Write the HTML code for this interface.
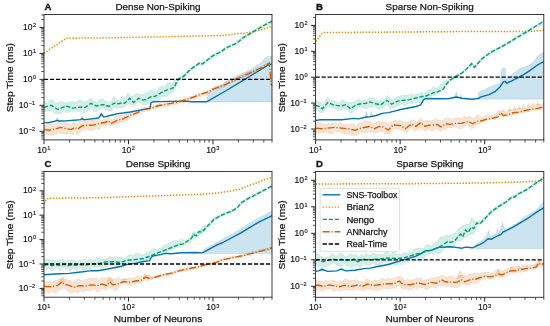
<!DOCTYPE html>
<html><head><meta charset="utf-8"><style>html,body{margin:0;padding:0;background:#fff;}svg{display:block;}</style></head>
<body><svg width="550" height="326" viewBox="0 0 550 326" font-family='"Liberation Sans", sans-serif' fill="#161616" style="will-change:transform"><defs><clipPath id="clipA"><rect x="44.0" y="14.5" width="228.00" height="125.40"/></clipPath><clipPath id="clipB"><rect x="315.6" y="14.5" width="228.20" height="125.40"/></clipPath><clipPath id="clipC"><rect x="44.0" y="171.5" width="228.00" height="125.70"/></clipPath><clipPath id="clipD"><rect x="315.6" y="171.5" width="228.20" height="125.80"/></clipPath></defs><g clip-path="url(#clipA)"><polygon points="44.0,102.0 46.8,103.0 49.6,100.5 52.4,99.8 55.2,103.2 58.0,102.7 60.8,101.5 63.6,102.6 66.4,102.8 69.2,102.3 72.0,101.3 74.8,102.7 77.6,101.1 80.4,100.1 83.2,101.9 86.0,101.8 88.8,99.7 91.6,98.3 94.4,101.7 97.2,101.9 100.0,99.3 102.8,98.7 105.6,101.1 108.4,102.5 111.2,101.5 114.0,96.2 116.8,99.9 119.6,100.1 122.4,96.1 125.2,98.6 128.0,93.1 130.8,96.1 133.6,95.7 136.4,93.5 139.2,94.4 142.0,94.7 144.8,93.4 147.6,92.2 150.4,90.5 153.2,90.2 156.0,92.4 158.8,88.1 161.6,86.2 164.4,87.2 167.2,83.2 170.0,82.7 172.8,83.7 175.6,78.5 178.4,77.7 181.2,76.1 184.0,74.6 186.8,72.6 189.6,69.0 192.4,66.3 195.2,65.5 198.0,62.6 200.8,62.2 203.6,61.4 206.4,60.2 209.2,57.2 212.0,54.4 214.8,53.2 217.6,51.8 220.4,50.9 223.2,48.4 226.0,46.2 228.8,45.6 231.6,44.5 234.4,43.7 237.2,40.9 240.0,39.1 242.8,36.3 245.6,35.2 248.4,33.2 251.2,32.5 254.0,30.4 256.8,27.9 259.6,26.0 262.4,25.4 265.2,22.8 268.0,22.0 270.8,20.3 272.3,19.2 272.3,22.3 270.8,23.7 268.0,24.8 265.2,26.1 262.4,28.2 259.6,29.8 256.8,30.1 254.0,32.6 251.2,34.4 248.4,36.4 245.6,37.0 242.8,39.0 240.0,41.0 237.2,43.7 234.4,45.0 231.6,46.3 228.8,48.5 226.0,48.8 223.2,51.6 220.4,52.9 217.6,55.1 214.8,56.3 212.0,58.2 209.2,59.2 206.4,62.1 203.6,64.9 200.8,64.9 198.0,64.9 195.2,67.7 192.4,68.6 189.6,71.9 186.8,74.2 184.0,77.1 181.2,79.1 178.4,80.9 175.6,87.5 172.8,91.9 170.0,92.7 167.2,96.4 164.4,96.2 161.6,96.6 158.8,100.1 156.0,101.5 153.2,100.2 150.4,101.4 147.6,103.9 144.8,105.3 142.0,104.0 139.2,101.9 136.4,103.2 133.6,106.0 130.8,105.1 128.0,103.9 125.2,106.4 122.4,108.0 119.6,107.7 116.8,108.0 114.0,106.8 111.2,110.9 108.4,110.6 105.6,109.5 102.8,107.7 100.0,108.7 97.2,111.2 94.4,111.5 91.6,107.4 88.8,110.1 86.0,112.1 83.2,113.2 80.4,111.6 77.6,111.1 74.8,110.8 72.0,110.6 69.2,112.0 66.4,112.5 63.6,109.9 60.8,114.0 58.0,113.3 55.2,113.6 52.4,110.8 49.6,110.7 46.8,111.0 44.0,112.2" fill="#029e73" fill-opacity="0.17" stroke="#029e73" stroke-opacity="0.22" stroke-width="0.6"/><polygon points="44.0,124.5 46.4,125.3 48.8,123.9 51.2,124.3 53.6,124.9 56.0,123.9 58.4,122.1 60.8,121.6 63.2,121.8 65.6,122.4 68.0,123.5 70.4,125.3 72.8,122.4 75.2,122.8 77.6,125.3 80.0,121.3 82.4,120.1 84.8,120.7 87.2,120.8 89.6,119.4 92.0,120.0 94.4,120.1 96.8,118.8 99.2,119.1 101.6,120.7 104.0,118.7 106.4,118.8 108.8,116.9 111.2,119.4 113.6,119.4 116.0,116.2 118.4,116.2 120.8,115.3 123.2,115.1 125.6,113.2 128.0,112.2 130.4,113.2 132.8,112.7 135.2,111.4 137.6,110.6 140.0,109.6 142.4,108.3 144.8,107.5 147.2,107.4 149.6,107.4 152.0,105.8 154.4,106.0 156.8,104.4 159.2,103.5 161.6,104.3 164.0,103.2 166.4,102.6 168.8,102.8 171.2,101.5 173.6,101.4 176.0,100.6 178.4,100.9 180.8,99.4 183.2,98.7 185.6,98.3 188.0,97.8 190.4,96.4 192.8,96.0 195.2,94.4 197.6,94.0 200.0,93.1 202.4,92.5 204.8,92.1 207.2,91.0 209.6,89.9 212.0,88.3 214.4,86.9 216.8,86.5 219.2,84.8 221.6,85.1 224.0,84.2 226.4,82.6 228.8,81.2 231.2,80.0 233.6,79.5 236.0,77.8 238.4,76.2 240.8,75.8 243.2,74.2 245.6,73.2 248.0,71.9 250.4,71.0 252.8,70.5 255.2,69.7 257.6,67.5 260.0,66.9 262.4,66.0 264.8,64.0 267.2,63.5 269.3,61.3 269.3,64.2 267.2,65.3 264.8,67.1 262.4,68.5 260.0,69.6 257.6,71.0 255.2,72.0 252.8,73.4 250.4,74.5 248.0,74.8 245.6,76.7 243.2,77.4 240.8,78.4 238.4,79.7 236.0,80.9 233.6,82.2 231.2,82.9 228.8,83.8 226.4,85.9 224.0,87.2 221.6,87.9 219.2,88.7 216.8,89.3 214.4,89.9 212.0,91.0 209.6,93.3 207.2,93.6 204.8,95.1 202.4,95.5 200.0,96.8 197.6,96.7 195.2,98.4 192.8,99.0 190.4,99.3 188.0,100.1 185.6,101.5 183.2,102.5 180.8,103.1 178.4,102.9 176.0,104.5 173.6,104.6 171.2,104.9 168.8,105.5 166.4,106.2 164.0,105.6 161.6,107.3 159.2,107.2 156.8,107.1 154.4,108.4 152.0,109.2 149.6,110.6 147.2,110.2 144.8,111.5 142.4,111.9 140.0,113.2 137.6,113.7 135.2,115.0 132.8,116.1 130.4,116.5 128.0,120.0 125.6,120.9 123.2,122.6 120.8,122.4 118.4,122.9 116.0,124.8 113.6,125.1 111.2,126.3 108.8,123.7 106.4,125.3 104.0,125.2 101.6,126.4 99.2,129.8 96.8,127.9 94.4,129.8 92.0,130.1 89.6,131.1 87.2,129.1 84.8,129.5 82.4,130.5 80.0,132.1 77.6,135.2 75.2,131.7 72.8,134.6 70.4,133.2 68.0,133.7 65.6,133.9 63.2,133.8 60.8,133.5 58.4,132.9 56.0,134.2 53.6,134.6 51.2,135.7 48.8,134.8 46.4,133.9 44.0,135.0" fill="#d55e00" fill-opacity="0.17" stroke="#d55e00" stroke-opacity="0.22" stroke-width="0.6"/><polygon points="207.5,101.9 207.5,94.0 230.0,79.0 250.0,70.0 262.0,62.0 265.0,58.0 268.0,56.3 272.0,56.5 272.0,101.9" fill="#0173b2" fill-opacity="0.2" stroke="#0173b2" stroke-opacity="0.22" stroke-width="0.6"/><polygon points="55.0,121.5 57.1,116.8 59.5,121.3" fill="#0173b2" fill-opacity="0.28"/><polygon points="80.0,120.0 82.2,115.6 84.5,119.8" fill="#0173b2" fill-opacity="0.28"/><polygon points="99.5,117.5 101.3,111.8 103.3,116.8" fill="#0173b2" fill-opacity="0.28"/><polyline points="44.0,122.4 47.3,122.9 55.0,121.2 57.1,120.3 59.0,121.0 65.8,120.9 76.7,120.0 80.5,119.6 82.2,118.6 84.0,119.6 85.0,119.6 98.8,118.0 101.3,113.8 103.8,117.1 111.9,115.0 118.0,113.6 130.4,112.0 141.2,109.9 149.9,108.3 151.1,102.6 152.8,101.8 160.0,101.6 169.0,101.4 186.6,101.3 192.0,101.7 206.5,101.8 225.5,91.0 245.1,79.2 268.4,64.9 272.3,63.8" fill="none" stroke="#0173b2" stroke-width="1.4" stroke-linejoin="round"/><polyline points="44.0,53.2 66.4,38.2 100.0,37.9 160.0,36.9 222.0,35.4 237.6,33.8 249.1,32.5 258.5,30.1 272.3,26.7" fill="none" stroke="#de8f05" stroke-width="1.55" stroke-dasharray="1.35,1.65"/><polyline points="44.0,107.4 51.0,105.3 57.8,109.5 66.0,106.0 73.0,108.1 79.9,107.1 85.4,107.4 90.9,103.3 96.4,106.0 102.0,104.7 104.4,104.8 108.7,106.5 114.2,103.2 118.5,103.7 122.1,102.9 124.6,103.3 129.6,98.3 133.7,102.5 138.7,98.3 142.9,100.0 146.2,99.6 151.1,96.7 155.3,96.2 160.5,93.0 165.9,90.3 171.4,88.6 174.6,87.0 176.8,81.5 179.0,78.8 183.4,76.6 190.3,69.4 200.1,62.7 202.5,63.9 212.4,56.0 221.0,51.7 226.2,47.9 236.9,43.1 242.8,38.0 253.3,31.7 263.7,25.5 272.3,21.0" fill="none" stroke="#029e73" stroke-width="1.4" stroke-dasharray="4.3,1.8"/><polyline points="44.0,129.6 49.5,130.2 54.9,129.1 60.4,127.4 65.8,128.5 71.3,129.6 74.5,127.4 77.8,129.1 81.1,126.4 85.0,125.3 92.7,125.3 97.3,124.0 101.5,123.0 105.7,122.3 108.0,120.7 111.1,123.3 115.7,121.1 118.0,119.9 122.1,119.4 126.3,117.4 130.4,115.3 137.1,112.8 142.0,109.9 147.0,109.1 151.1,108.3 158.0,105.8 165.9,104.4 176.8,102.3 186.6,99.5 198.6,95.2 209.5,91.4 212.0,89.4 224.3,85.1 236.5,79.0 248.8,73.5 261.1,68.0 268.4,63.7 269.3,63.0 271.3,85.5" fill="none" stroke="#d55e00" stroke-width="1.4" stroke-dasharray="7.2,1.8,1.15,1.8"/><line x1="44.0" y1="79.34" x2="272.0" y2="79.34" stroke="#000" stroke-width="1.3" stroke-dasharray="4.2,1.8"/></g><line x1="44.00" y1="139.9" x2="44.00" y2="144.20000000000002" stroke="#262626" stroke-width="1.0"/><line x1="69.43" y1="139.9" x2="69.43" y2="142.5" stroke="#262626" stroke-width="0.8"/><line x1="84.31" y1="139.9" x2="84.31" y2="142.5" stroke="#262626" stroke-width="0.8"/><line x1="94.86" y1="139.9" x2="94.86" y2="142.5" stroke="#262626" stroke-width="0.8"/><line x1="103.05" y1="139.9" x2="103.05" y2="142.5" stroke="#262626" stroke-width="0.8"/><line x1="109.74" y1="139.9" x2="109.74" y2="142.5" stroke="#262626" stroke-width="0.8"/><line x1="115.39" y1="139.9" x2="115.39" y2="142.5" stroke="#262626" stroke-width="0.8"/><line x1="120.29" y1="139.9" x2="120.29" y2="142.5" stroke="#262626" stroke-width="0.8"/><line x1="124.61" y1="139.9" x2="124.61" y2="142.5" stroke="#262626" stroke-width="0.8"/><line x1="128.48" y1="139.9" x2="128.48" y2="144.20000000000002" stroke="#262626" stroke-width="1.0"/><line x1="153.91" y1="139.9" x2="153.91" y2="142.5" stroke="#262626" stroke-width="0.8"/><line x1="168.79" y1="139.9" x2="168.79" y2="142.5" stroke="#262626" stroke-width="0.8"/><line x1="179.34" y1="139.9" x2="179.34" y2="142.5" stroke="#262626" stroke-width="0.8"/><line x1="187.53" y1="139.9" x2="187.53" y2="142.5" stroke="#262626" stroke-width="0.8"/><line x1="194.22" y1="139.9" x2="194.22" y2="142.5" stroke="#262626" stroke-width="0.8"/><line x1="199.87" y1="139.9" x2="199.87" y2="142.5" stroke="#262626" stroke-width="0.8"/><line x1="204.77" y1="139.9" x2="204.77" y2="142.5" stroke="#262626" stroke-width="0.8"/><line x1="209.09" y1="139.9" x2="209.09" y2="142.5" stroke="#262626" stroke-width="0.8"/><line x1="212.96" y1="139.9" x2="212.96" y2="144.20000000000002" stroke="#262626" stroke-width="1.0"/><line x1="238.39" y1="139.9" x2="238.39" y2="142.5" stroke="#262626" stroke-width="0.8"/><line x1="253.27" y1="139.9" x2="253.27" y2="142.5" stroke="#262626" stroke-width="0.8"/><line x1="263.82" y1="139.9" x2="263.82" y2="142.5" stroke="#262626" stroke-width="0.8"/><line x1="272.01" y1="139.9" x2="272.01" y2="142.5" stroke="#262626" stroke-width="0.8"/><text x="37.30" y="152.60" font-size="9.6" stroke="#161616" stroke-width="0.2" textLength="9.5" lengthAdjust="spacingAndGlyphs">10</text><text x="47.30" y="150.40" font-size="5.6" stroke="#161616" stroke-width="0.15">1</text><text x="121.78" y="152.60" font-size="9.6" stroke="#161616" stroke-width="0.2" textLength="9.5" lengthAdjust="spacingAndGlyphs">10</text><text x="131.78" y="150.40" font-size="5.6" stroke="#161616" stroke-width="0.15">2</text><text x="206.26" y="152.60" font-size="9.6" stroke="#161616" stroke-width="0.2" textLength="9.5" lengthAdjust="spacingAndGlyphs">10</text><text x="216.26" y="150.40" font-size="5.6" stroke="#161616" stroke-width="0.15">3</text><line x1="41.3" y1="139.10" x2="44.0" y2="139.10" stroke="#262626" stroke-width="0.8"/><line x1="41.3" y1="137.04" x2="44.0" y2="137.04" stroke="#262626" stroke-width="0.8"/><line x1="41.3" y1="135.30" x2="44.0" y2="135.30" stroke="#262626" stroke-width="0.8"/><line x1="41.3" y1="133.80" x2="44.0" y2="133.80" stroke="#262626" stroke-width="0.8"/><line x1="41.3" y1="132.47" x2="44.0" y2="132.47" stroke="#262626" stroke-width="0.8"/><line x1="39.5" y1="131.28" x2="44.0" y2="131.28" stroke="#262626" stroke-width="1.0"/><line x1="41.3" y1="123.46" x2="44.0" y2="123.46" stroke="#262626" stroke-width="0.8"/><line x1="41.3" y1="118.89" x2="44.0" y2="118.89" stroke="#262626" stroke-width="0.8"/><line x1="41.3" y1="115.64" x2="44.0" y2="115.64" stroke="#262626" stroke-width="0.8"/><line x1="41.3" y1="113.13" x2="44.0" y2="113.13" stroke="#262626" stroke-width="0.8"/><line x1="41.3" y1="111.07" x2="44.0" y2="111.07" stroke="#262626" stroke-width="0.8"/><line x1="41.3" y1="109.33" x2="44.0" y2="109.33" stroke="#262626" stroke-width="0.8"/><line x1="41.3" y1="107.83" x2="44.0" y2="107.83" stroke="#262626" stroke-width="0.8"/><line x1="41.3" y1="106.50" x2="44.0" y2="106.50" stroke="#262626" stroke-width="0.8"/><line x1="39.5" y1="105.31" x2="44.0" y2="105.31" stroke="#262626" stroke-width="1.0"/><line x1="41.3" y1="97.49" x2="44.0" y2="97.49" stroke="#262626" stroke-width="0.8"/><line x1="41.3" y1="92.92" x2="44.0" y2="92.92" stroke="#262626" stroke-width="0.8"/><line x1="41.3" y1="89.67" x2="44.0" y2="89.67" stroke="#262626" stroke-width="0.8"/><line x1="41.3" y1="87.16" x2="44.0" y2="87.16" stroke="#262626" stroke-width="0.8"/><line x1="41.3" y1="85.10" x2="44.0" y2="85.10" stroke="#262626" stroke-width="0.8"/><line x1="41.3" y1="83.36" x2="44.0" y2="83.36" stroke="#262626" stroke-width="0.8"/><line x1="41.3" y1="81.86" x2="44.0" y2="81.86" stroke="#262626" stroke-width="0.8"/><line x1="41.3" y1="80.53" x2="44.0" y2="80.53" stroke="#262626" stroke-width="0.8"/><line x1="39.5" y1="79.34" x2="44.0" y2="79.34" stroke="#262626" stroke-width="1.0"/><line x1="41.3" y1="71.52" x2="44.0" y2="71.52" stroke="#262626" stroke-width="0.8"/><line x1="41.3" y1="66.95" x2="44.0" y2="66.95" stroke="#262626" stroke-width="0.8"/><line x1="41.3" y1="63.70" x2="44.0" y2="63.70" stroke="#262626" stroke-width="0.8"/><line x1="41.3" y1="61.19" x2="44.0" y2="61.19" stroke="#262626" stroke-width="0.8"/><line x1="41.3" y1="59.13" x2="44.0" y2="59.13" stroke="#262626" stroke-width="0.8"/><line x1="41.3" y1="57.39" x2="44.0" y2="57.39" stroke="#262626" stroke-width="0.8"/><line x1="41.3" y1="55.89" x2="44.0" y2="55.89" stroke="#262626" stroke-width="0.8"/><line x1="41.3" y1="54.56" x2="44.0" y2="54.56" stroke="#262626" stroke-width="0.8"/><line x1="39.5" y1="53.37" x2="44.0" y2="53.37" stroke="#262626" stroke-width="1.0"/><line x1="41.3" y1="45.55" x2="44.0" y2="45.55" stroke="#262626" stroke-width="0.8"/><line x1="41.3" y1="40.98" x2="44.0" y2="40.98" stroke="#262626" stroke-width="0.8"/><line x1="41.3" y1="37.73" x2="44.0" y2="37.73" stroke="#262626" stroke-width="0.8"/><line x1="41.3" y1="35.22" x2="44.0" y2="35.22" stroke="#262626" stroke-width="0.8"/><line x1="41.3" y1="33.16" x2="44.0" y2="33.16" stroke="#262626" stroke-width="0.8"/><line x1="41.3" y1="31.42" x2="44.0" y2="31.42" stroke="#262626" stroke-width="0.8"/><line x1="41.3" y1="29.92" x2="44.0" y2="29.92" stroke="#262626" stroke-width="0.8"/><line x1="41.3" y1="28.59" x2="44.0" y2="28.59" stroke="#262626" stroke-width="0.8"/><line x1="39.5" y1="27.40" x2="44.0" y2="27.40" stroke="#262626" stroke-width="1.0"/><line x1="41.3" y1="19.58" x2="44.0" y2="19.58" stroke="#262626" stroke-width="0.8"/><line x1="41.3" y1="15.01" x2="44.0" y2="15.01" stroke="#262626" stroke-width="0.8"/><text x="18.70" y="133.78" font-size="9.6" stroke="#161616" stroke-width="0.2" textLength="9.5" lengthAdjust="spacingAndGlyphs">10</text><text x="28.70" y="130.98" font-size="5.6" stroke="#161616" stroke-width="0.15">−2</text><text x="18.70" y="107.81" font-size="9.6" stroke="#161616" stroke-width="0.2" textLength="9.5" lengthAdjust="spacingAndGlyphs">10</text><text x="28.70" y="105.01" font-size="5.6" stroke="#161616" stroke-width="0.15">−1</text><text x="22.90" y="81.84" font-size="9.6" stroke="#161616" stroke-width="0.2" textLength="9.5" lengthAdjust="spacingAndGlyphs">10</text><text x="32.90" y="79.04" font-size="5.6" stroke="#161616" stroke-width="0.15">0</text><text x="22.90" y="55.87" font-size="9.6" stroke="#161616" stroke-width="0.2" textLength="9.5" lengthAdjust="spacingAndGlyphs">10</text><text x="32.90" y="53.07" font-size="5.6" stroke="#161616" stroke-width="0.15">1</text><text x="22.90" y="29.90" font-size="9.6" stroke="#161616" stroke-width="0.2" textLength="9.5" lengthAdjust="spacingAndGlyphs">10</text><text x="32.90" y="27.10" font-size="5.6" stroke="#161616" stroke-width="0.15">2</text><rect x="44.0" y="14.5" width="228.00" height="125.40" fill="none" stroke="#262626" stroke-width="0.9"/><text x="115.40" y="10.1" font-size="9.9" stroke="#161616" stroke-width="0.25" textLength="85.2" lengthAdjust="spacingAndGlyphs">Dense Non-Spiking</text><text transform="translate(44.40,10.00) scale(1.0,1.0)" font-size="9.6" font-weight="bold" stroke="#161616" stroke-width="0.35">A</text><text transform="translate(13.100000000000001,112.30) rotate(-90)" font-size="9.6" stroke="#161616" stroke-width="0.25" textLength="69.2" lengthAdjust="spacingAndGlyphs">Step Time (ms)</text><g clip-path="url(#clipB)"><polygon points="315.6,100.1 318.0,102.4 320.4,102.3 322.8,105.0 325.2,101.3 327.6,97.1 330.0,99.5 332.4,101.1 334.8,100.3 337.2,102.8 339.6,102.7 342.0,100.3 344.4,100.9 346.8,102.8 349.2,102.4 351.6,102.7 354.0,102.0 356.4,100.3 358.8,99.1 361.2,100.7 363.6,100.2 366.0,100.5 368.4,99.1 370.8,98.2 373.2,97.6 375.6,100.4 378.0,101.3 380.4,100.4 382.8,99.0 385.2,98.8 387.6,95.3 390.0,99.4 392.4,99.5 394.8,98.5 397.2,96.3 399.6,96.8 402.0,95.4 404.4,95.6 406.8,95.3 409.2,94.9 411.6,93.7 414.0,95.2 416.4,94.3 418.8,94.3 421.2,92.2 423.6,93.6 426.0,92.2 428.4,89.7 430.8,90.2 433.2,86.6 435.6,88.2 438.0,87.8 440.4,84.8 442.8,84.1 445.2,79.6 447.6,81.9 450.0,79.2 452.4,77.2 454.8,76.1 457.2,74.0 459.6,73.6 462.0,72.2 464.4,69.6 466.8,67.9 469.2,65.0 471.6,62.8 474.0,66.0 476.4,63.3 478.8,61.4 481.2,58.7 483.6,56.2 486.0,55.1 488.4,52.5 490.8,50.7 493.2,49.5 495.6,48.8 498.0,47.5 500.4,46.2 502.8,44.4 505.2,43.2 507.6,42.0 510.0,40.8 512.4,39.4 514.8,37.1 517.2,35.7 519.6,34.5 522.0,33.1 524.4,31.7 526.8,30.4 529.2,29.6 531.6,27.6 534.0,26.6 536.4,24.7 538.8,23.4 541.2,21.4 543.6,20.1 544.1,19.3 544.1,22.6 543.6,22.6 541.2,24.2 538.8,26.1 536.4,27.0 534.0,28.0 531.6,30.1 529.2,31.2 526.8,32.7 524.4,33.8 522.0,36.0 519.6,37.5 517.2,39.0 514.8,40.0 512.4,41.8 510.0,43.4 507.6,43.8 505.2,46.0 502.8,46.8 500.4,48.3 498.0,49.6 495.6,50.6 493.2,52.7 490.8,53.6 488.4,54.9 486.0,56.6 483.6,59.3 481.2,60.7 478.8,64.0 476.4,66.4 474.0,68.7 471.6,64.3 469.2,67.1 466.8,69.6 464.4,72.2 462.0,74.3 459.6,76.0 457.2,76.7 454.8,78.7 452.4,80.4 450.0,81.3 447.6,84.4 445.2,87.6 442.8,90.6 440.4,92.1 438.0,92.8 435.6,94.3 433.2,95.5 430.8,95.4 428.4,96.6 426.0,98.0 423.6,100.9 421.2,102.4 418.8,102.9 416.4,102.6 414.0,102.3 411.6,104.3 409.2,102.7 406.8,104.4 404.4,105.7 402.0,103.7 399.6,105.4 397.2,105.8 394.8,107.5 392.4,107.9 390.0,108.6 387.6,103.9 385.2,105.4 382.8,107.2 380.4,108.6 378.0,109.6 375.6,106.9 373.2,107.1 370.8,107.1 368.4,107.5 366.0,108.7 363.6,106.9 361.2,107.2 358.8,107.0 356.4,109.1 354.0,110.7 351.6,113.6 349.2,112.8 346.8,109.4 344.4,108.2 342.0,109.6 339.6,110.3 337.2,110.5 334.8,108.1 332.4,107.8 330.0,106.4 327.6,106.6 325.2,108.9 322.8,112.5 320.4,112.5 318.0,110.3 315.6,110.1" fill="#029e73" fill-opacity="0.17" stroke="#029e73" stroke-opacity="0.22" stroke-width="0.6"/><polygon points="315.6,124.5 318.0,121.9 320.4,122.7 322.8,124.2 325.2,124.6 327.6,124.5 330.0,123.2 332.4,123.2 334.8,123.0 337.2,123.8 339.6,122.3 342.0,124.2 344.4,124.7 346.8,125.0 349.2,124.5 351.6,123.7 354.0,124.4 356.4,126.2 358.8,122.8 361.2,123.5 363.6,121.2 366.0,120.7 368.4,121.7 370.8,121.5 373.2,124.2 375.6,122.8 378.0,121.4 380.4,121.7 382.8,122.5 385.2,121.9 387.6,124.2 390.0,123.1 392.4,121.9 394.8,119.8 397.2,121.5 399.6,120.6 402.0,121.0 404.4,122.2 406.8,122.7 409.2,121.2 411.6,119.8 414.0,120.1 416.4,122.3 418.8,120.1 421.2,118.2 423.6,121.6 426.0,121.0 428.4,120.6 430.8,121.0 433.2,120.3 435.6,118.2 438.0,120.3 440.4,120.5 442.8,120.6 445.2,117.9 447.6,118.6 450.0,118.5 452.4,120.1 454.8,118.0 457.2,118.3 459.6,117.8 462.0,119.4 464.4,116.0 466.8,117.8 469.2,116.1 471.6,117.8 474.0,118.7 476.4,115.7 478.8,115.4 481.2,118.1 483.6,118.0 486.0,114.8 488.4,115.9 490.8,115.3 493.2,115.7 495.6,114.7 498.0,114.6 500.4,110.1 502.8,111.2 505.2,113.0 507.6,111.2 510.0,109.8 512.4,111.0 514.8,109.0 517.2,109.1 519.6,108.0 522.0,109.1 524.4,108.0 526.8,108.4 529.2,106.2 531.6,106.8 534.0,106.2 536.4,104.4 538.8,104.5 541.2,104.3 543.6,102.7 544.1,104.7 544.1,108.6 543.6,108.6 541.2,109.8 538.8,109.2 536.4,109.5 534.0,110.0 531.6,110.6 529.2,111.9 526.8,111.3 524.4,112.7 522.0,112.9 519.6,112.9 517.2,113.4 514.8,114.7 512.4,114.7 510.0,116.0 507.6,116.6 505.2,116.0 502.8,117.1 500.4,114.3 498.0,117.9 495.6,119.9 493.2,118.9 490.8,119.4 488.4,119.7 486.0,120.9 483.6,121.9 481.2,121.9 478.8,124.3 476.4,125.2 474.0,127.5 471.6,128.4 469.2,126.5 466.8,124.8 464.4,126.6 462.0,128.6 459.6,128.5 457.2,127.0 454.8,126.9 452.4,127.5 450.0,128.1 447.6,127.4 445.2,130.1 442.8,129.6 440.4,131.6 438.0,128.9 435.6,129.1 433.2,130.8 430.8,130.6 428.4,129.3 426.0,131.3 423.6,130.3 421.2,127.8 418.8,128.6 416.4,130.5 414.0,130.9 411.6,127.4 409.2,129.4 406.8,133.0 404.4,131.2 402.0,130.5 399.6,129.5 397.2,128.8 394.8,128.4 392.4,130.1 390.0,134.1 387.6,134.0 385.2,134.1 382.8,131.6 380.4,130.9 378.0,131.8 375.6,132.9 373.2,131.9 370.8,131.8 368.4,131.3 366.0,132.9 363.6,132.2 361.2,131.6 358.8,134.4 356.4,134.8 354.0,135.3 351.6,135.3 349.2,133.8 346.8,133.3 344.4,133.7 342.0,132.9 339.6,131.5 337.2,132.4 334.8,130.6 332.4,133.4 330.0,133.7 327.6,132.1 325.2,132.1 322.8,132.8 320.4,132.0 318.0,134.3 315.6,131.5" fill="#d55e00" fill-opacity="0.17" stroke="#d55e00" stroke-opacity="0.22" stroke-width="0.6"/><polygon points="478.5,99.2 478.5,92.5 480.0,91.8 490.0,87.1 500.0,82.9 501.5,70.2 503.0,67.7 505.0,68.0 506.5,80.0 510.0,76.0 520.0,68.5 530.0,65.2 535.0,60.1 540.0,54.2 544.0,52.5 544.0,99.2" fill="#0173b2" fill-opacity="0.2" stroke="#0173b2" stroke-opacity="0.22" stroke-width="0.6"/><polygon points="495.7,115.0 497.9,109.4 499.9,111.5" fill="#d55e00" fill-opacity="0.2"/><polygon points="501.9,111.5 504.1,107.9 506.1,112.5" fill="#d55e00" fill-opacity="0.2"/><polygon points="507.5,112.3 509.7,106.5 511.7,110.8" fill="#d55e00" fill-opacity="0.2"/><polygon points="512.3,110.6 514.5,105.1 516.5,109.9" fill="#d55e00" fill-opacity="0.2"/><polygon points="517.1,109.8 519.3,104.4 521.3,108.9" fill="#d55e00" fill-opacity="0.2"/><polygon points="521.2,108.9 523.4,103.4 525.4,107.9" fill="#d55e00" fill-opacity="0.2"/><polygon points="526.1,107.8 528.3,102.3 530.3,106.9" fill="#d55e00" fill-opacity="0.2"/><polygon points="530.9,106.8 533.1,101.5 535.1,106.3" fill="#d55e00" fill-opacity="0.2"/><polygon points="535.7,106.2 537.9,100.8 539.9,105.3" fill="#d55e00" fill-opacity="0.2"/><polygon points="364.9,117.0 366.7,111.0 368.2,116.8" fill="#0173b2" fill-opacity="0.28"/><polygon points="369.5,116.6 371.2,111.0 373.0,116.3" fill="#0173b2" fill-opacity="0.28"/><polygon points="454.0,98.5 456.3,90.9 458.5,98.5" fill="#0173b2" fill-opacity="0.28"/><polygon points="459.5,98.5 461.0,93.3 462.5,98.5" fill="#0173b2" fill-opacity="0.28"/><polyline points="315.6,120.5 320.9,119.6 327.8,119.8 341.6,119.8 354.0,118.4 358.1,118.9 366.4,117.0 370.0,116.9 376.1,115.5 382.3,113.4 388.4,112.6 394.5,111.1 400.7,109.5 408.3,108.0 416.0,106.5 420.6,104.9 423.7,99.6 425.2,98.8 431.1,98.5 437.3,98.8 449.5,98.5 456.3,97.0 461.8,98.2 471.6,99.2 476.5,98.8 479.0,98.3 480.2,97.2 489.0,94.6 495.5,91.3 499.9,87.0 503.6,81.6 505.3,81.4 507.0,83.2 517.3,78.2 522.2,75.3 528.3,71.6 537.3,65.2 544.1,61.5" fill="none" stroke="#0173b2" stroke-width="1.4" stroke-linejoin="round"/><polyline points="315.6,41.1 318.4,38.4 321.2,34.3 323.5,32.4 352.0,32.4 455.0,31.6 530.0,31.5 544.1,30.2" fill="none" stroke="#de8f05" stroke-width="1.55" stroke-dasharray="1.35,1.65"/><polyline points="315.6,105.3 319.5,106.7 322.3,108.8 327.8,102.6 334.7,105.3 341.6,106.0 345.7,104.7 350.6,108.8 355.4,105.3 359.5,104.0 366.4,103.3 370.0,101.9 374.6,103.4 380.7,104.9 386.9,100.3 391.5,104.2 397.6,101.1 403.7,100.3 409.9,99.6 416.0,98.0 422.1,96.5 425.0,96.4 429.9,94.5 433.6,92.7 437.3,92.1 443.4,89.0 445.9,84.7 449.5,80.4 455.7,76.7 461.8,73.1 465.5,70.0 471.6,63.7 474.3,67.4 482.6,58.2 491.8,51.8 501.0,47.1 510.2,41.6 519.5,36.1 528.7,30.6 544.1,21.0" fill="none" stroke="#029e73" stroke-width="1.4" stroke-dasharray="4.3,1.8"/><polyline points="315.6,128.1 322.3,128.8 327.8,128.1 334.7,127.4 341.6,128.1 348.5,128.8 355.4,130.2 360.9,128.1 370.0,126.4 374.6,128.7 379.2,126.4 383.8,127.2 388.4,130.2 393.0,124.9 400.7,125.6 405.3,128.7 411.4,124.1 416.0,126.4 420.6,122.6 425.2,126.4 428.7,125.1 432.4,125.1 437.3,124.4 441.0,126.9 445.9,123.8 449.5,124.4 455.7,123.5 461.8,123.2 467.9,121.4 472.9,123.8 476.5,121.4 481.4,120.8 486.9,119.0 492.4,118.3 497.9,116.9 500.7,112.8 503.4,115.5 507.6,114.8 513.1,112.8 518.6,112.1 524.1,110.7 531.0,109.3 536.6,108.6 544.1,106.8" fill="none" stroke="#d55e00" stroke-width="1.4" stroke-dasharray="7.2,1.8,1.15,1.8"/><line x1="315.6" y1="77.20" x2="543.8" y2="77.20" stroke="#000" stroke-width="1.3" stroke-dasharray="4.2,1.8"/></g><line x1="315.60" y1="139.9" x2="315.60" y2="144.20000000000002" stroke="#262626" stroke-width="1.0"/><line x1="341.05" y1="139.9" x2="341.05" y2="142.5" stroke="#262626" stroke-width="0.8"/><line x1="355.94" y1="139.9" x2="355.94" y2="142.5" stroke="#262626" stroke-width="0.8"/><line x1="366.50" y1="139.9" x2="366.50" y2="142.5" stroke="#262626" stroke-width="0.8"/><line x1="374.70" y1="139.9" x2="374.70" y2="142.5" stroke="#262626" stroke-width="0.8"/><line x1="381.39" y1="139.9" x2="381.39" y2="142.5" stroke="#262626" stroke-width="0.8"/><line x1="387.05" y1="139.9" x2="387.05" y2="142.5" stroke="#262626" stroke-width="0.8"/><line x1="391.96" y1="139.9" x2="391.96" y2="142.5" stroke="#262626" stroke-width="0.8"/><line x1="396.28" y1="139.9" x2="396.28" y2="142.5" stroke="#262626" stroke-width="0.8"/><line x1="400.15" y1="139.9" x2="400.15" y2="144.20000000000002" stroke="#262626" stroke-width="1.0"/><line x1="425.60" y1="139.9" x2="425.60" y2="142.5" stroke="#262626" stroke-width="0.8"/><line x1="440.49" y1="139.9" x2="440.49" y2="142.5" stroke="#262626" stroke-width="0.8"/><line x1="451.05" y1="139.9" x2="451.05" y2="142.5" stroke="#262626" stroke-width="0.8"/><line x1="459.25" y1="139.9" x2="459.25" y2="142.5" stroke="#262626" stroke-width="0.8"/><line x1="465.94" y1="139.9" x2="465.94" y2="142.5" stroke="#262626" stroke-width="0.8"/><line x1="471.60" y1="139.9" x2="471.60" y2="142.5" stroke="#262626" stroke-width="0.8"/><line x1="476.51" y1="139.9" x2="476.51" y2="142.5" stroke="#262626" stroke-width="0.8"/><line x1="480.83" y1="139.9" x2="480.83" y2="142.5" stroke="#262626" stroke-width="0.8"/><line x1="484.70" y1="139.9" x2="484.70" y2="144.20000000000002" stroke="#262626" stroke-width="1.0"/><line x1="510.15" y1="139.9" x2="510.15" y2="142.5" stroke="#262626" stroke-width="0.8"/><line x1="525.04" y1="139.9" x2="525.04" y2="142.5" stroke="#262626" stroke-width="0.8"/><line x1="535.60" y1="139.9" x2="535.60" y2="142.5" stroke="#262626" stroke-width="0.8"/><line x1="543.80" y1="139.9" x2="543.80" y2="142.5" stroke="#262626" stroke-width="0.8"/><text x="308.90" y="152.60" font-size="9.6" stroke="#161616" stroke-width="0.2" textLength="9.5" lengthAdjust="spacingAndGlyphs">10</text><text x="318.90" y="150.40" font-size="5.6" stroke="#161616" stroke-width="0.15">1</text><text x="393.45" y="152.60" font-size="9.6" stroke="#161616" stroke-width="0.2" textLength="9.5" lengthAdjust="spacingAndGlyphs">10</text><text x="403.45" y="150.40" font-size="5.6" stroke="#161616" stroke-width="0.15">2</text><text x="478.00" y="152.60" font-size="9.6" stroke="#161616" stroke-width="0.2" textLength="9.5" lengthAdjust="spacingAndGlyphs">10</text><text x="488.00" y="150.40" font-size="5.6" stroke="#161616" stroke-width="0.15">3</text><line x1="312.90000000000003" y1="139.31" x2="315.6" y2="139.31" stroke="#262626" stroke-width="0.8"/><line x1="312.90000000000003" y1="136.80" x2="315.6" y2="136.80" stroke="#262626" stroke-width="0.8"/><line x1="312.90000000000003" y1="134.75" x2="315.6" y2="134.75" stroke="#262626" stroke-width="0.8"/><line x1="312.90000000000003" y1="133.01" x2="315.6" y2="133.01" stroke="#262626" stroke-width="0.8"/><line x1="312.90000000000003" y1="131.51" x2="315.6" y2="131.51" stroke="#262626" stroke-width="0.8"/><line x1="312.90000000000003" y1="130.19" x2="315.6" y2="130.19" stroke="#262626" stroke-width="0.8"/><line x1="311.1" y1="129.00" x2="315.6" y2="129.00" stroke="#262626" stroke-width="1.0"/><line x1="312.90000000000003" y1="121.20" x2="315.6" y2="121.20" stroke="#262626" stroke-width="0.8"/><line x1="312.90000000000003" y1="116.64" x2="315.6" y2="116.64" stroke="#262626" stroke-width="0.8"/><line x1="312.90000000000003" y1="113.41" x2="315.6" y2="113.41" stroke="#262626" stroke-width="0.8"/><line x1="312.90000000000003" y1="110.90" x2="315.6" y2="110.90" stroke="#262626" stroke-width="0.8"/><line x1="312.90000000000003" y1="108.85" x2="315.6" y2="108.85" stroke="#262626" stroke-width="0.8"/><line x1="312.90000000000003" y1="107.11" x2="315.6" y2="107.11" stroke="#262626" stroke-width="0.8"/><line x1="312.90000000000003" y1="105.61" x2="315.6" y2="105.61" stroke="#262626" stroke-width="0.8"/><line x1="312.90000000000003" y1="104.29" x2="315.6" y2="104.29" stroke="#262626" stroke-width="0.8"/><line x1="311.1" y1="103.10" x2="315.6" y2="103.10" stroke="#262626" stroke-width="1.0"/><line x1="312.90000000000003" y1="95.30" x2="315.6" y2="95.30" stroke="#262626" stroke-width="0.8"/><line x1="312.90000000000003" y1="90.74" x2="315.6" y2="90.74" stroke="#262626" stroke-width="0.8"/><line x1="312.90000000000003" y1="87.51" x2="315.6" y2="87.51" stroke="#262626" stroke-width="0.8"/><line x1="312.90000000000003" y1="85.00" x2="315.6" y2="85.00" stroke="#262626" stroke-width="0.8"/><line x1="312.90000000000003" y1="82.95" x2="315.6" y2="82.95" stroke="#262626" stroke-width="0.8"/><line x1="312.90000000000003" y1="81.21" x2="315.6" y2="81.21" stroke="#262626" stroke-width="0.8"/><line x1="312.90000000000003" y1="79.71" x2="315.6" y2="79.71" stroke="#262626" stroke-width="0.8"/><line x1="312.90000000000003" y1="78.39" x2="315.6" y2="78.39" stroke="#262626" stroke-width="0.8"/><line x1="311.1" y1="77.20" x2="315.6" y2="77.20" stroke="#262626" stroke-width="1.0"/><line x1="312.90000000000003" y1="69.40" x2="315.6" y2="69.40" stroke="#262626" stroke-width="0.8"/><line x1="312.90000000000003" y1="64.84" x2="315.6" y2="64.84" stroke="#262626" stroke-width="0.8"/><line x1="312.90000000000003" y1="61.61" x2="315.6" y2="61.61" stroke="#262626" stroke-width="0.8"/><line x1="312.90000000000003" y1="59.10" x2="315.6" y2="59.10" stroke="#262626" stroke-width="0.8"/><line x1="312.90000000000003" y1="57.05" x2="315.6" y2="57.05" stroke="#262626" stroke-width="0.8"/><line x1="312.90000000000003" y1="55.31" x2="315.6" y2="55.31" stroke="#262626" stroke-width="0.8"/><line x1="312.90000000000003" y1="53.81" x2="315.6" y2="53.81" stroke="#262626" stroke-width="0.8"/><line x1="312.90000000000003" y1="52.49" x2="315.6" y2="52.49" stroke="#262626" stroke-width="0.8"/><line x1="311.1" y1="51.30" x2="315.6" y2="51.30" stroke="#262626" stroke-width="1.0"/><line x1="312.90000000000003" y1="43.50" x2="315.6" y2="43.50" stroke="#262626" stroke-width="0.8"/><line x1="312.90000000000003" y1="38.94" x2="315.6" y2="38.94" stroke="#262626" stroke-width="0.8"/><line x1="312.90000000000003" y1="35.71" x2="315.6" y2="35.71" stroke="#262626" stroke-width="0.8"/><line x1="312.90000000000003" y1="33.20" x2="315.6" y2="33.20" stroke="#262626" stroke-width="0.8"/><line x1="312.90000000000003" y1="31.15" x2="315.6" y2="31.15" stroke="#262626" stroke-width="0.8"/><line x1="312.90000000000003" y1="29.41" x2="315.6" y2="29.41" stroke="#262626" stroke-width="0.8"/><line x1="312.90000000000003" y1="27.91" x2="315.6" y2="27.91" stroke="#262626" stroke-width="0.8"/><line x1="312.90000000000003" y1="26.59" x2="315.6" y2="26.59" stroke="#262626" stroke-width="0.8"/><line x1="311.1" y1="25.40" x2="315.6" y2="25.40" stroke="#262626" stroke-width="1.0"/><line x1="312.90000000000003" y1="17.60" x2="315.6" y2="17.60" stroke="#262626" stroke-width="0.8"/><text x="290.30" y="131.50" font-size="9.6" stroke="#161616" stroke-width="0.2" textLength="9.5" lengthAdjust="spacingAndGlyphs">10</text><text x="300.30" y="128.70" font-size="5.6" stroke="#161616" stroke-width="0.15">−2</text><text x="290.30" y="105.60" font-size="9.6" stroke="#161616" stroke-width="0.2" textLength="9.5" lengthAdjust="spacingAndGlyphs">10</text><text x="300.30" y="102.80" font-size="5.6" stroke="#161616" stroke-width="0.15">−1</text><text x="294.50" y="79.70" font-size="9.6" stroke="#161616" stroke-width="0.2" textLength="9.5" lengthAdjust="spacingAndGlyphs">10</text><text x="304.50" y="76.90" font-size="5.6" stroke="#161616" stroke-width="0.15">0</text><text x="294.50" y="53.80" font-size="9.6" stroke="#161616" stroke-width="0.2" textLength="9.5" lengthAdjust="spacingAndGlyphs">10</text><text x="304.50" y="51.00" font-size="5.6" stroke="#161616" stroke-width="0.15">1</text><text x="294.50" y="27.90" font-size="9.6" stroke="#161616" stroke-width="0.2" textLength="9.5" lengthAdjust="spacingAndGlyphs">10</text><text x="304.50" y="25.10" font-size="5.6" stroke="#161616" stroke-width="0.15">2</text><rect x="315.6" y="14.5" width="228.20" height="125.40" fill="none" stroke="#262626" stroke-width="0.9"/><text x="385.60" y="10.1" font-size="9.9" stroke="#161616" stroke-width="0.25" textLength="88.2" lengthAdjust="spacingAndGlyphs">Sparse Non-Spiking</text><text transform="translate(316.00,10.00) scale(1.0,1.0)" font-size="9.6" font-weight="bold" stroke="#161616" stroke-width="0.35">B</text><text transform="translate(284.70000000000005,112.30) rotate(-90)" font-size="9.6" stroke="#161616" stroke-width="0.25" textLength="69.2" lengthAdjust="spacingAndGlyphs">Step Time (ms)</text><g clip-path="url(#clipC)"><polygon points="44.0,259.1 46.4,260.0 48.8,259.2 51.2,260.2 53.6,259.8 56.0,260.8 58.4,260.9 60.8,260.6 63.2,258.8 65.6,261.9 68.0,260.3 70.4,260.3 72.8,259.5 75.2,261.1 77.6,262.0 80.0,259.6 82.4,261.5 84.8,259.1 87.2,261.3 89.6,258.9 92.0,260.3 94.4,259.8 96.8,257.6 99.2,258.4 101.6,258.8 104.0,259.2 106.4,258.9 108.8,256.6 111.2,257.6 113.6,257.7 116.0,256.5 118.4,258.1 120.8,256.8 123.2,258.5 125.6,257.8 128.0,255.5 130.4,255.3 132.8,255.5 135.2,253.7 137.6,253.5 140.0,253.9 142.4,255.3 144.8,253.5 147.2,251.9 149.6,252.1 152.0,249.3 154.4,248.7 156.8,249.5 159.2,248.8 161.6,247.8 164.0,245.6 166.4,244.7 168.8,243.1 171.2,242.0 173.6,240.8 176.0,240.3 178.4,241.3 180.8,238.8 183.2,240.0 185.6,240.7 188.0,238.2 190.4,236.4 192.8,233.1 195.2,231.9 197.6,232.0 200.0,229.8 202.4,228.3 204.8,225.4 207.2,224.8 209.6,222.6 212.0,220.5 214.4,217.4 216.8,216.8 219.2,214.7 221.6,214.6 224.0,212.6 226.4,211.8 228.8,211.4 231.2,209.7 233.6,208.7 236.0,207.3 238.4,204.7 240.8,202.6 243.2,200.4 245.6,198.6 248.0,196.9 250.4,195.8 252.8,194.4 255.2,193.6 257.6,192.1 260.0,191.2 262.4,190.1 264.8,188.7 267.2,187.4 269.6,185.6 272.0,184.6 272.3,184.9 272.3,187.8 272.0,187.2 269.6,188.6 267.2,189.5 264.8,191.4 262.4,191.8 260.0,193.4 257.6,195.3 255.2,196.5 252.8,196.8 250.4,198.4 248.0,199.9 245.6,200.9 243.2,203.3 240.8,204.8 238.4,207.3 236.0,210.2 233.6,211.5 231.2,212.1 228.8,213.3 226.4,214.3 224.0,215.8 221.6,216.2 219.2,217.8 216.8,219.3 214.4,220.5 212.0,222.7 209.6,225.2 207.2,227.5 204.8,230.8 202.4,234.5 200.0,234.0 197.6,236.8 195.2,238.0 192.8,236.9 190.4,241.5 188.0,243.1 185.6,244.1 183.2,246.0 180.8,246.2 178.4,246.4 176.0,247.1 173.6,248.9 171.2,250.4 168.8,249.7 166.4,251.1 164.0,251.5 161.6,254.5 159.2,253.9 156.8,256.4 154.4,256.8 152.0,256.5 149.6,258.5 147.2,258.9 144.8,260.7 142.4,260.6 140.0,261.4 137.6,262.2 135.2,265.1 132.8,262.5 130.4,264.9 128.0,265.2 125.6,263.8 123.2,266.1 120.8,266.2 118.4,266.9 116.0,267.3 113.6,264.4 111.2,265.8 108.8,264.7 106.4,266.8 104.0,267.7 101.6,267.9 99.2,267.1 96.8,267.1 94.4,266.9 92.0,267.0 89.6,269.2 87.2,269.2 84.8,269.8 82.4,270.5 80.0,267.7 77.6,270.2 75.2,269.4 72.8,268.0 70.4,270.7 68.0,269.3 65.6,268.6 63.2,267.1 60.8,270.9 58.4,269.1 56.0,267.6 53.6,270.2 51.2,270.4 48.8,267.6 46.4,269.4 44.0,268.0" fill="#029e73" fill-opacity="0.17" stroke="#029e73" stroke-opacity="0.22" stroke-width="0.6"/><polygon points="44.0,281.2 46.4,282.1 48.8,281.6 51.2,282.7 53.6,281.3 56.0,280.3 58.4,279.4 60.8,279.0 63.2,276.9 65.6,279.0 68.0,280.0 70.4,280.1 72.8,282.8 75.2,282.0 77.6,278.9 80.0,279.4 82.4,281.8 84.8,279.2 87.2,279.2 89.6,277.9 92.0,278.8 94.4,278.6 96.8,278.3 99.2,280.5 101.6,277.5 104.0,277.8 106.4,278.3 108.8,276.6 111.2,278.2 113.6,279.2 116.0,279.0 118.4,277.6 120.8,279.2 123.2,279.2 125.6,279.5 128.0,278.6 130.4,277.8 132.8,278.8 135.2,277.6 137.6,275.6 140.0,277.2 142.4,276.1 144.8,274.1 147.2,275.6 149.6,274.9 152.0,277.0 154.4,276.2 156.8,275.3 159.2,275.1 161.6,274.4 164.0,274.1 166.4,273.0 168.8,273.2 171.2,272.5 173.6,271.6 176.0,271.0 178.4,269.8 180.8,269.1 183.2,268.9 185.6,268.0 188.0,267.4 190.4,267.7 192.8,267.5 195.2,265.8 197.6,265.8 200.0,265.8 202.4,264.1 204.8,264.3 207.2,263.0 209.6,262.7 212.0,262.7 214.4,262.5 216.8,261.5 219.2,259.5 221.6,259.2 224.0,258.0 226.4,257.8 228.8,257.5 231.2,256.5 233.6,256.1 236.0,255.9 238.4,255.9 240.8,255.0 243.2,254.2 245.6,253.5 248.0,253.2 250.4,252.5 252.8,251.5 255.2,251.3 257.6,251.1 260.0,249.6 262.4,250.1 264.8,248.4 267.2,248.4 269.6,247.4 272.0,246.4 272.3,247.3 272.3,248.9 272.0,248.7 269.6,250.0 267.2,250.8 264.8,251.5 262.4,251.4 260.0,251.8 257.6,252.5 255.2,253.2 252.8,254.1 250.4,255.2 248.0,255.1 245.6,255.8 243.2,256.0 240.8,257.2 238.4,257.6 236.0,257.6 233.6,258.0 231.2,258.7 228.8,259.2 226.4,260.0 224.0,260.3 221.6,260.9 219.2,262.5 216.8,262.5 214.4,264.2 212.0,264.8 209.6,265.2 207.2,264.9 204.8,266.3 202.4,266.1 200.0,267.0 197.6,268.4 195.2,269.0 192.8,269.1 190.4,269.5 188.0,270.4 185.6,270.9 183.2,270.5 180.8,271.5 178.4,271.6 176.0,273.1 173.6,274.0 171.2,274.3 168.8,275.1 166.4,275.5 164.0,276.0 161.6,276.6 159.2,276.7 156.8,278.0 154.4,278.0 152.0,279.4 149.6,279.5 147.2,281.7 144.8,279.3 142.4,282.0 140.0,283.5 137.6,282.0 135.2,284.0 132.8,283.1 130.4,285.7 128.0,284.2 125.6,282.7 123.2,283.0 120.8,284.9 118.4,287.7 116.0,290.9 113.6,289.8 111.2,288.4 108.8,287.6 106.4,290.1 104.0,289.5 101.6,288.6 99.2,290.8 96.8,292.3 94.4,289.3 92.0,290.1 89.6,290.8 87.2,290.3 84.8,290.9 82.4,292.3 80.0,290.2 77.6,293.2 75.2,291.0 72.8,292.4 70.4,292.6 68.0,291.5 65.6,288.4 63.2,287.9 60.8,288.9 58.4,290.1 56.0,293.0 53.6,292.2 51.2,291.1 48.8,293.5 46.4,291.2 44.0,292.4" fill="#d55e00" fill-opacity="0.17" stroke="#d55e00" stroke-opacity="0.22" stroke-width="0.6"/><polygon points="203.5,253.4 204.0,249.3 222.0,239.6 240.0,229.5 248.0,224.0 252.0,221.7 260.0,217.5 272.0,211.0 272.0,253.4" fill="#0173b2" fill-opacity="0.2" stroke="#0173b2" stroke-opacity="0.22" stroke-width="0.6"/><polygon points="58.0,282.0 62.0,277.2 66.0,282.0" fill="#d55e00" fill-opacity="0.2"/><polygon points="106.0,282.0 110.0,276.4 114.0,282.0" fill="#d55e00" fill-opacity="0.2"/><polygon points="121.0,280.0 125.0,278.0 128.0,280.0" fill="#d55e00" fill-opacity="0.2"/><polygon points="142.0,278.0 146.0,273.4 149.0,278.0" fill="#d55e00" fill-opacity="0.2"/><polygon points="191.0,237.0 193.3,230.9 195.5,235.0" fill="#029e73" fill-opacity="0.2"/><polygon points="199.5,231.0 201.5,228.7 203.5,229.5" fill="#029e73" fill-opacity="0.2"/><polyline points="44.0,274.8 51.1,274.3 60.2,273.8 69.3,273.4 76.5,272.5 82.9,271.8 87.5,271.1 92.0,270.6 97.7,270.8 105.3,269.5 113.0,268.0 120.7,266.5 126.8,264.6 136.0,263.1 143.6,261.5 149.6,260.6 151.3,257.2 153.0,255.9 160.8,254.6 165.0,253.3 171.0,253.7 181.8,252.8 195.5,252.5 202.0,252.9 204.7,251.6 217.6,244.7 222.0,243.0 240.4,233.1 249.6,227.6 258.8,222.1 272.3,215.6" fill="none" stroke="#0173b2" stroke-width="1.4" stroke-linejoin="round"/><polyline points="44.0,203.8 46.1,199.5 48.6,198.3 100.0,197.7 150.0,196.0 200.0,194.4 216.7,193.1 232.0,190.8 239.7,189.2 247.3,186.2 255.0,183.5 262.7,180.4 272.3,177.2" fill="none" stroke="#de8f05" stroke-width="1.55" stroke-dasharray="1.35,1.65"/><polyline points="44.0,265.2 48.0,264.6 52.0,265.8 56.0,264.8 60.0,265.6 64.0,264.4 68.0,265.8 72.0,264.8 76.0,265.4 80.0,264.6 84.0,265.2 90.0,264.2 99.2,263.4 105.3,261.9 113.0,261.6 120.7,262.6 126.8,260.3 134.5,259.6 143.6,258.5 150.0,256.1 157.2,253.2 164.4,250.4 171.6,247.5 178.9,244.6 183.2,243.9 187.5,241.0 191.8,238.1 193.3,234.5 196.2,235.9 199.1,231.6 201.9,232.3 205.6,228.0 210.0,223.7 214.2,219.0 223.4,214.4 232.6,210.7 237.2,207.9 241.8,202.4 251.0,196.9 252.7,196.3 262.7,190.8 272.3,186.0" fill="none" stroke="#029e73" stroke-width="1.4" stroke-dasharray="4.3,1.8"/><polyline points="44.0,286.4 51.2,286.7 57.3,285.6 60.4,283.3 61.9,281.8 64.2,284.1 69.6,285.6 74.2,287.2 78.8,285.6 85.0,286.1 91.1,284.9 97.7,285.6 102.3,284.1 106.9,285.6 109.9,281.8 113.0,284.9 117.6,284.1 123.7,281.5 129.9,282.1 136.0,281.0 142.1,280.0 145.2,277.2 150.0,278.6 154.2,277.5 163.4,274.7 172.6,272.9 181.8,270.1 191.0,268.3 200.2,266.4 205.8,264.6 215.0,262.8 222.0,259.9 245.0,255.2 272.3,247.9" fill="none" stroke="#d55e00" stroke-width="1.4" stroke-dasharray="7.2,1.8,1.15,1.8"/><line x1="44.0" y1="264.00" x2="272.0" y2="264.00" stroke="#000" stroke-width="1.3" stroke-dasharray="4.2,1.8"/></g><line x1="44.00" y1="297.2" x2="44.00" y2="301.5" stroke="#262626" stroke-width="1.0"/><line x1="69.43" y1="297.2" x2="69.43" y2="299.8" stroke="#262626" stroke-width="0.8"/><line x1="84.31" y1="297.2" x2="84.31" y2="299.8" stroke="#262626" stroke-width="0.8"/><line x1="94.86" y1="297.2" x2="94.86" y2="299.8" stroke="#262626" stroke-width="0.8"/><line x1="103.05" y1="297.2" x2="103.05" y2="299.8" stroke="#262626" stroke-width="0.8"/><line x1="109.74" y1="297.2" x2="109.74" y2="299.8" stroke="#262626" stroke-width="0.8"/><line x1="115.39" y1="297.2" x2="115.39" y2="299.8" stroke="#262626" stroke-width="0.8"/><line x1="120.29" y1="297.2" x2="120.29" y2="299.8" stroke="#262626" stroke-width="0.8"/><line x1="124.61" y1="297.2" x2="124.61" y2="299.8" stroke="#262626" stroke-width="0.8"/><line x1="128.48" y1="297.2" x2="128.48" y2="301.5" stroke="#262626" stroke-width="1.0"/><line x1="153.91" y1="297.2" x2="153.91" y2="299.8" stroke="#262626" stroke-width="0.8"/><line x1="168.79" y1="297.2" x2="168.79" y2="299.8" stroke="#262626" stroke-width="0.8"/><line x1="179.34" y1="297.2" x2="179.34" y2="299.8" stroke="#262626" stroke-width="0.8"/><line x1="187.53" y1="297.2" x2="187.53" y2="299.8" stroke="#262626" stroke-width="0.8"/><line x1="194.22" y1="297.2" x2="194.22" y2="299.8" stroke="#262626" stroke-width="0.8"/><line x1="199.87" y1="297.2" x2="199.87" y2="299.8" stroke="#262626" stroke-width="0.8"/><line x1="204.77" y1="297.2" x2="204.77" y2="299.8" stroke="#262626" stroke-width="0.8"/><line x1="209.09" y1="297.2" x2="209.09" y2="299.8" stroke="#262626" stroke-width="0.8"/><line x1="212.96" y1="297.2" x2="212.96" y2="301.5" stroke="#262626" stroke-width="1.0"/><line x1="238.39" y1="297.2" x2="238.39" y2="299.8" stroke="#262626" stroke-width="0.8"/><line x1="253.27" y1="297.2" x2="253.27" y2="299.8" stroke="#262626" stroke-width="0.8"/><line x1="263.82" y1="297.2" x2="263.82" y2="299.8" stroke="#262626" stroke-width="0.8"/><line x1="272.01" y1="297.2" x2="272.01" y2="299.8" stroke="#262626" stroke-width="0.8"/><text x="37.30" y="309.90" font-size="9.6" stroke="#161616" stroke-width="0.2" textLength="9.5" lengthAdjust="spacingAndGlyphs">10</text><text x="47.30" y="307.70" font-size="5.6" stroke="#161616" stroke-width="0.15">1</text><text x="121.78" y="309.90" font-size="9.6" stroke="#161616" stroke-width="0.2" textLength="9.5" lengthAdjust="spacingAndGlyphs">10</text><text x="131.78" y="307.70" font-size="5.6" stroke="#161616" stroke-width="0.15">2</text><text x="206.26" y="309.90" font-size="9.6" stroke="#161616" stroke-width="0.2" textLength="9.5" lengthAdjust="spacingAndGlyphs">10</text><text x="216.26" y="307.70" font-size="5.6" stroke="#161616" stroke-width="0.15">3</text><line x1="41.3" y1="295.75" x2="44.0" y2="295.75" stroke="#262626" stroke-width="0.8"/><line x1="41.3" y1="293.81" x2="44.0" y2="293.81" stroke="#262626" stroke-width="0.8"/><line x1="41.3" y1="292.18" x2="44.0" y2="292.18" stroke="#262626" stroke-width="0.8"/><line x1="41.3" y1="290.76" x2="44.0" y2="290.76" stroke="#262626" stroke-width="0.8"/><line x1="41.3" y1="289.52" x2="44.0" y2="289.52" stroke="#262626" stroke-width="0.8"/><line x1="39.5" y1="288.40" x2="44.0" y2="288.40" stroke="#262626" stroke-width="1.0"/><line x1="41.3" y1="281.05" x2="44.0" y2="281.05" stroke="#262626" stroke-width="0.8"/><line x1="41.3" y1="276.76" x2="44.0" y2="276.76" stroke="#262626" stroke-width="0.8"/><line x1="41.3" y1="273.71" x2="44.0" y2="273.71" stroke="#262626" stroke-width="0.8"/><line x1="41.3" y1="271.35" x2="44.0" y2="271.35" stroke="#262626" stroke-width="0.8"/><line x1="41.3" y1="269.41" x2="44.0" y2="269.41" stroke="#262626" stroke-width="0.8"/><line x1="41.3" y1="267.78" x2="44.0" y2="267.78" stroke="#262626" stroke-width="0.8"/><line x1="41.3" y1="266.36" x2="44.0" y2="266.36" stroke="#262626" stroke-width="0.8"/><line x1="41.3" y1="265.12" x2="44.0" y2="265.12" stroke="#262626" stroke-width="0.8"/><line x1="39.5" y1="264.00" x2="44.0" y2="264.00" stroke="#262626" stroke-width="1.0"/><line x1="41.3" y1="256.65" x2="44.0" y2="256.65" stroke="#262626" stroke-width="0.8"/><line x1="41.3" y1="252.36" x2="44.0" y2="252.36" stroke="#262626" stroke-width="0.8"/><line x1="41.3" y1="249.31" x2="44.0" y2="249.31" stroke="#262626" stroke-width="0.8"/><line x1="41.3" y1="246.95" x2="44.0" y2="246.95" stroke="#262626" stroke-width="0.8"/><line x1="41.3" y1="245.01" x2="44.0" y2="245.01" stroke="#262626" stroke-width="0.8"/><line x1="41.3" y1="243.38" x2="44.0" y2="243.38" stroke="#262626" stroke-width="0.8"/><line x1="41.3" y1="241.96" x2="44.0" y2="241.96" stroke="#262626" stroke-width="0.8"/><line x1="41.3" y1="240.72" x2="44.0" y2="240.72" stroke="#262626" stroke-width="0.8"/><line x1="39.5" y1="239.60" x2="44.0" y2="239.60" stroke="#262626" stroke-width="1.0"/><line x1="41.3" y1="232.25" x2="44.0" y2="232.25" stroke="#262626" stroke-width="0.8"/><line x1="41.3" y1="227.96" x2="44.0" y2="227.96" stroke="#262626" stroke-width="0.8"/><line x1="41.3" y1="224.91" x2="44.0" y2="224.91" stroke="#262626" stroke-width="0.8"/><line x1="41.3" y1="222.55" x2="44.0" y2="222.55" stroke="#262626" stroke-width="0.8"/><line x1="41.3" y1="220.61" x2="44.0" y2="220.61" stroke="#262626" stroke-width="0.8"/><line x1="41.3" y1="218.98" x2="44.0" y2="218.98" stroke="#262626" stroke-width="0.8"/><line x1="41.3" y1="217.56" x2="44.0" y2="217.56" stroke="#262626" stroke-width="0.8"/><line x1="41.3" y1="216.32" x2="44.0" y2="216.32" stroke="#262626" stroke-width="0.8"/><line x1="39.5" y1="215.20" x2="44.0" y2="215.20" stroke="#262626" stroke-width="1.0"/><line x1="41.3" y1="207.85" x2="44.0" y2="207.85" stroke="#262626" stroke-width="0.8"/><line x1="41.3" y1="203.56" x2="44.0" y2="203.56" stroke="#262626" stroke-width="0.8"/><line x1="41.3" y1="200.51" x2="44.0" y2="200.51" stroke="#262626" stroke-width="0.8"/><line x1="41.3" y1="198.15" x2="44.0" y2="198.15" stroke="#262626" stroke-width="0.8"/><line x1="41.3" y1="196.21" x2="44.0" y2="196.21" stroke="#262626" stroke-width="0.8"/><line x1="41.3" y1="194.58" x2="44.0" y2="194.58" stroke="#262626" stroke-width="0.8"/><line x1="41.3" y1="193.16" x2="44.0" y2="193.16" stroke="#262626" stroke-width="0.8"/><line x1="41.3" y1="191.92" x2="44.0" y2="191.92" stroke="#262626" stroke-width="0.8"/><line x1="39.5" y1="190.80" x2="44.0" y2="190.80" stroke="#262626" stroke-width="1.0"/><line x1="41.3" y1="183.45" x2="44.0" y2="183.45" stroke="#262626" stroke-width="0.8"/><line x1="41.3" y1="179.16" x2="44.0" y2="179.16" stroke="#262626" stroke-width="0.8"/><line x1="41.3" y1="176.11" x2="44.0" y2="176.11" stroke="#262626" stroke-width="0.8"/><line x1="41.3" y1="173.75" x2="44.0" y2="173.75" stroke="#262626" stroke-width="0.8"/><line x1="41.3" y1="171.81" x2="44.0" y2="171.81" stroke="#262626" stroke-width="0.8"/><text x="18.70" y="290.90" font-size="9.6" stroke="#161616" stroke-width="0.2" textLength="9.5" lengthAdjust="spacingAndGlyphs">10</text><text x="28.70" y="288.10" font-size="5.6" stroke="#161616" stroke-width="0.15">−2</text><text x="18.70" y="266.50" font-size="9.6" stroke="#161616" stroke-width="0.2" textLength="9.5" lengthAdjust="spacingAndGlyphs">10</text><text x="28.70" y="263.70" font-size="5.6" stroke="#161616" stroke-width="0.15">−1</text><text x="22.90" y="242.10" font-size="9.6" stroke="#161616" stroke-width="0.2" textLength="9.5" lengthAdjust="spacingAndGlyphs">10</text><text x="32.90" y="239.30" font-size="5.6" stroke="#161616" stroke-width="0.15">0</text><text x="22.90" y="217.70" font-size="9.6" stroke="#161616" stroke-width="0.2" textLength="9.5" lengthAdjust="spacingAndGlyphs">10</text><text x="32.90" y="214.90" font-size="5.6" stroke="#161616" stroke-width="0.15">1</text><text x="22.90" y="193.30" font-size="9.6" stroke="#161616" stroke-width="0.2" textLength="9.5" lengthAdjust="spacingAndGlyphs">10</text><text x="32.90" y="190.50" font-size="5.6" stroke="#161616" stroke-width="0.15">2</text><rect x="44.0" y="171.5" width="228.00" height="125.70" fill="none" stroke="#262626" stroke-width="0.9"/><text x="125.70" y="167.1" font-size="9.9" stroke="#161616" stroke-width="0.25" textLength="64.6" lengthAdjust="spacingAndGlyphs">Dense Spiking</text><text transform="translate(44.40,167.00) scale(1.0,1.0)" font-size="9.6" font-weight="bold" stroke="#161616" stroke-width="0.35">C</text><text transform="translate(13.100000000000001,269.45) rotate(-90)" font-size="9.6" stroke="#161616" stroke-width="0.25" textLength="69.2" lengthAdjust="spacingAndGlyphs">Step Time (ms)</text><text x="113.80" y="321.7" font-size="9.6" stroke="#161616" stroke-width="0.25" textLength="88.4" lengthAdjust="spacingAndGlyphs">Number of Neurons</text><g clip-path="url(#clipD)"><polygon points="315.6,255.0 318.0,253.6 320.4,256.3 322.8,257.4 325.2,257.7 327.6,257.2 330.0,256.8 332.4,253.1 334.8,256.1 337.2,256.1 339.6,253.2 342.0,253.0 344.4,256.8 346.8,256.6 349.2,254.4 351.6,254.0 354.0,255.4 356.4,254.4 358.8,257.3 361.2,254.4 363.6,256.3 366.0,253.3 368.4,254.8 370.8,255.3 373.2,252.9 375.6,254.6 378.0,254.2 380.4,254.5 382.8,254.7 385.2,252.2 387.6,251.6 390.0,255.3 392.4,252.0 394.8,252.3 397.2,254.8 399.6,254.3 402.0,255.0 404.4,252.0 406.8,253.6 409.2,251.4 411.6,253.0 414.0,249.0 416.4,248.6 418.8,248.3 421.2,247.9 423.6,248.7 426.0,245.6 428.4,244.3 430.8,246.5 433.2,243.8 435.6,242.5 438.0,241.8 440.4,236.7 442.8,237.3 445.2,235.5 447.6,235.7 450.0,235.6 452.4,234.3 454.8,233.1 457.2,230.4 459.6,228.1 462.0,225.8 464.4,225.3 466.8,223.9 469.2,224.6 471.6,217.8 474.0,220.6 476.4,222.0 478.8,220.8 481.2,220.8 483.6,218.4 486.0,216.4 488.4,212.8 490.8,210.3 493.2,209.9 495.6,206.6 498.0,206.1 500.4,203.4 502.8,202.3 505.2,201.1 507.6,198.9 510.0,197.0 512.4,195.8 514.8,195.9 517.2,193.0 519.6,191.6 522.0,191.3 524.4,189.5 526.8,188.5 529.2,187.0 531.6,185.1 534.0,182.8 536.4,181.6 538.8,180.5 541.2,178.2 543.6,175.9 544.1,175.4 544.1,179.2 543.6,178.8 541.2,181.1 538.8,183.0 536.4,184.5 534.0,185.2 531.6,187.8 529.2,189.1 526.8,191.0 524.4,191.5 522.0,193.7 519.6,193.6 517.2,196.8 514.8,198.1 512.4,197.5 510.0,200.5 507.6,202.5 505.2,203.6 502.8,205.8 500.4,207.1 498.0,208.5 495.6,210.4 493.2,212.1 490.8,213.5 488.4,215.8 486.0,218.1 483.6,221.3 481.2,224.0 478.8,224.2 476.4,226.9 474.0,234.1 471.6,233.4 469.2,234.5 466.8,237.5 464.4,236.7 462.0,240.3 459.6,240.9 457.2,240.8 454.8,245.0 452.4,248.3 450.0,244.6 447.6,247.8 445.2,247.7 442.8,250.3 440.4,253.0 438.0,253.2 435.6,252.7 433.2,254.8 430.8,253.4 428.4,254.4 426.0,254.9 423.6,258.1 421.2,259.6 418.8,260.4 416.4,260.8 414.0,260.5 411.6,259.5 409.2,261.0 406.8,262.8 404.4,262.4 402.0,265.0 399.6,263.0 397.2,264.7 394.8,265.1 392.4,264.0 390.0,264.2 387.6,264.7 385.2,261.4 382.8,262.8 380.4,265.5 378.0,265.1 375.6,265.3 373.2,262.9 370.8,264.4 368.4,265.4 366.0,265.1 363.6,263.4 361.2,267.0 358.8,266.8 356.4,265.1 354.0,266.2 351.6,267.0 349.2,266.3 346.8,266.2 344.4,263.6 342.0,266.2 339.6,265.9 337.2,265.5 334.8,263.2 332.4,262.6 330.0,264.5 327.6,266.2 325.2,266.5 322.8,266.1 320.4,266.3 318.0,266.4 315.6,263.8" fill="#029e73" fill-opacity="0.17" stroke="#029e73" stroke-opacity="0.22" stroke-width="0.6"/><polygon points="315.6,279.2 318.0,280.9 320.4,280.7 322.8,281.7 325.2,279.9 327.6,281.2 330.0,280.7 332.4,280.4 334.8,280.3 337.2,282.4 339.6,280.4 342.0,282.2 344.4,279.6 346.8,279.4 349.2,280.9 351.6,280.5 354.0,280.0 356.4,279.8 358.8,281.4 361.2,281.2 363.6,282.2 366.0,278.9 368.4,279.8 370.8,280.9 373.2,281.1 375.6,279.7 378.0,280.9 380.4,279.6 382.8,278.1 385.2,279.9 387.6,278.0 390.0,279.3 392.4,278.5 394.8,278.4 397.2,277.2 399.6,276.1 402.0,277.4 404.4,281.0 406.8,279.4 409.2,279.7 411.6,280.1 414.0,279.8 416.4,278.3 418.8,278.3 421.2,278.0 423.6,280.3 426.0,279.8 428.4,279.2 430.8,278.2 433.2,277.9 435.6,276.9 438.0,277.5 440.4,276.0 442.8,275.1 445.2,276.8 447.6,277.2 450.0,275.8 452.4,276.3 454.8,278.2 457.2,277.9 459.6,275.0 462.0,275.5 464.4,275.3 466.8,276.7 469.2,274.0 471.6,274.1 474.0,273.3 476.4,273.0 478.8,273.7 481.2,273.4 483.6,272.0 486.0,272.6 488.4,272.1 490.8,273.4 493.2,272.9 495.6,270.5 498.0,269.7 500.4,270.1 502.8,271.4 505.2,269.1 507.6,269.4 510.0,267.1 512.4,266.9 514.8,266.7 517.2,265.7 519.6,267.5 522.0,265.2 524.4,264.9 526.8,265.7 529.2,264.2 531.6,265.5 534.0,264.8 536.4,263.4 538.8,260.7 541.2,261.4 543.6,260.1 544.1,259.5 544.1,266.1 543.6,265.6 541.2,266.4 538.8,266.1 536.4,268.1 534.0,270.3 531.6,269.2 529.2,269.5 526.8,270.5 524.4,271.7 522.0,271.8 519.6,272.4 517.2,272.0 514.8,272.9 512.4,272.8 510.0,273.5 507.6,274.1 505.2,276.1 502.8,276.5 500.4,276.9 498.0,276.5 495.6,276.5 493.2,278.7 490.8,278.4 488.4,279.3 486.0,277.7 483.6,278.5 481.2,279.3 478.8,282.5 476.4,282.8 474.0,283.8 471.6,282.9 469.2,284.9 466.8,284.8 464.4,284.8 462.0,283.5 459.6,286.0 457.2,287.5 454.8,287.6 452.4,286.9 450.0,285.8 447.6,286.3 445.2,286.5 442.8,284.6 440.4,285.4 438.0,286.0 435.6,288.5 433.2,287.1 430.8,287.0 428.4,288.4 426.0,289.4 423.6,287.3 421.2,288.2 418.8,287.5 416.4,288.9 414.0,287.7 411.6,289.0 409.2,290.5 406.8,288.3 404.4,289.4 402.0,288.6 399.6,284.4 397.2,286.4 394.8,288.6 392.4,288.1 390.0,288.8 387.6,288.5 385.2,288.4 382.8,288.2 380.4,289.3 378.0,290.3 375.6,289.9 373.2,290.2 370.8,289.0 368.4,289.3 366.0,288.9 363.6,291.3 361.2,289.5 358.8,290.1 356.4,288.6 354.0,290.2 351.6,290.0 349.2,290.6 346.8,289.4 344.4,289.6 342.0,290.3 339.6,291.2 337.2,289.6 334.8,291.6 332.4,290.6 330.0,288.2 327.6,289.6 325.2,289.2 322.8,291.5 320.4,290.0 318.0,289.1 315.6,290.6" fill="#d55e00" fill-opacity="0.17" stroke="#d55e00" stroke-opacity="0.22" stroke-width="0.6"/><polygon points="475.5,248.7 476.0,244.0 480.3,241.5 486.0,237.2 488.5,230.4 490.0,236.3 496.0,233.8 497.5,228.7 499.0,233.4 502.5,222.8 505.0,229.6 515.0,224.5 520.0,221.1 523.0,217.8 530.0,213.5 535.0,211.0 540.0,206.0 544.0,200.9 544.0,248.7" fill="#0173b2" fill-opacity="0.2" stroke="#0173b2" stroke-opacity="0.22" stroke-width="0.6"/><polygon points="456.0,279.0 460.0,269.9 464.0,278.0" fill="#d55e00" fill-opacity="0.2"/><polygon points="496.0,274.0 498.0,267.9 500.0,274.0" fill="#d55e00" fill-opacity="0.2"/><polygon points="509.0,271.0 512.0,264.5 514.0,271.0" fill="#d55e00" fill-opacity="0.2"/><polygon points="517.0,270.0 519.0,264.5 521.0,269.0" fill="#d55e00" fill-opacity="0.2"/><polygon points="525.0,268.0 527.0,265.2 529.0,268.0" fill="#d55e00" fill-opacity="0.2"/><polygon points="534.0,266.5 536.0,263.1 537.5,264.0" fill="#d55e00" fill-opacity="0.2"/><polygon points="537.5,264.0 539.0,256.2 540.5,263.0" fill="#d55e00" fill-opacity="0.2"/><polygon points="319.0,270.5 322.0,266.4 325.0,270.5" fill="#0173b2" fill-opacity="0.28"/><polygon points="338.5,270.0 341.3,267.3 344.0,270.0" fill="#0173b2" fill-opacity="0.28"/><polyline points="315.6,271.4 318.5,270.9 322.2,269.5 327.6,271.4 336.7,270.9 341.3,269.1 345.8,270.9 354.9,270.2 364.0,268.6 370.0,268.1 379.2,266.3 388.4,264.5 397.6,261.7 406.8,258.9 416.0,256.2 421.6,253.4 425.2,250.9 431.9,250.2 438.8,247.4 445.7,247.0 450.0,246.7 454.0,247.1 462.0,248.2 465.9,247.1 469.9,247.5 473.1,247.9 476.3,245.9 480.3,244.3 484.3,242.0 488.1,238.8 491.5,239.2 498.2,235.5 500.8,234.6 503.3,231.8 511.7,227.9 520.2,222.8 528.6,217.8 537.0,211.9 544.1,207.6" fill="none" stroke="#0173b2" stroke-width="1.4" stroke-linejoin="round"/><polyline points="315.6,184.0 420.0,183.6 480.0,183.0 520.0,182.0 544.1,180.8" fill="none" stroke="#de8f05" stroke-width="1.55" stroke-dasharray="1.35,1.65"/><polyline points="315.6,260.0 318.5,259.5 323.1,261.8 327.6,260.5 332.2,259.1 336.7,260.0 341.3,259.5 345.8,260.0 350.4,260.7 354.0,259.1 357.6,261.8 364.0,259.1 370.0,259.9 379.2,258.9 388.4,258.0 397.6,258.6 405.0,257.6 415.0,254.4 420.0,253.3 425.0,251.6 432.0,250.0 440.0,246.6 444.1,244.0 447.6,241.6 450.4,242.3 453.8,241.6 458.0,236.8 460.7,234.0 462.8,236.8 465.6,229.9 468.3,232.6 471.1,227.1 473.8,228.5 476.6,223.0 480.1,223.6 484.2,219.5 488.3,214.7 491.9,211.2 498.8,206.4 505.7,202.3 509.8,198.8 512.6,196.8 514.0,197.4 519.5,193.3 526.4,189.9 533.3,185.0 540.2,180.2 544.1,177.4" fill="none" stroke="#029e73" stroke-width="1.4" stroke-dasharray="4.3,1.8"/><polyline points="315.6,285.2 318.6,285.2 323.2,286.4 329.3,284.9 335.5,286.1 340.1,286.7 344.7,285.2 350.8,286.4 356.9,285.2 363.1,286.1 367.7,284.1 374.0,285.4 379.2,284.7 388.4,283.8 393.9,283.8 399.5,281.0 403.1,284.7 410.5,284.7 417.9,282.9 425.2,284.4 430.7,282.4 436.4,283.2 442.0,280.1 445.4,281.8 451.1,282.1 456.8,282.4 461.3,279.6 464.7,281.8 470.4,279.6 476.1,279.0 480.6,277.5 485.5,276.2 491.0,276.9 495.2,275.5 497.9,274.1 502.1,274.8 507.6,272.1 511.7,270.7 515.9,270.7 521.4,269.3 526.9,268.6 532.4,267.9 535.2,267.2 536.6,266.6 538.6,263.1 540.7,264.5 544.1,263.8" fill="none" stroke="#d55e00" stroke-width="1.4" stroke-dasharray="7.2,1.8,1.15,1.8"/><line x1="315.6" y1="259.80" x2="543.8" y2="259.80" stroke="#000" stroke-width="1.3" stroke-dasharray="4.2,1.8"/></g><line x1="315.60" y1="297.3" x2="315.60" y2="301.6" stroke="#262626" stroke-width="1.0"/><line x1="341.05" y1="297.3" x2="341.05" y2="299.90000000000003" stroke="#262626" stroke-width="0.8"/><line x1="355.94" y1="297.3" x2="355.94" y2="299.90000000000003" stroke="#262626" stroke-width="0.8"/><line x1="366.50" y1="297.3" x2="366.50" y2="299.90000000000003" stroke="#262626" stroke-width="0.8"/><line x1="374.70" y1="297.3" x2="374.70" y2="299.90000000000003" stroke="#262626" stroke-width="0.8"/><line x1="381.39" y1="297.3" x2="381.39" y2="299.90000000000003" stroke="#262626" stroke-width="0.8"/><line x1="387.05" y1="297.3" x2="387.05" y2="299.90000000000003" stroke="#262626" stroke-width="0.8"/><line x1="391.96" y1="297.3" x2="391.96" y2="299.90000000000003" stroke="#262626" stroke-width="0.8"/><line x1="396.28" y1="297.3" x2="396.28" y2="299.90000000000003" stroke="#262626" stroke-width="0.8"/><line x1="400.15" y1="297.3" x2="400.15" y2="301.6" stroke="#262626" stroke-width="1.0"/><line x1="425.60" y1="297.3" x2="425.60" y2="299.90000000000003" stroke="#262626" stroke-width="0.8"/><line x1="440.49" y1="297.3" x2="440.49" y2="299.90000000000003" stroke="#262626" stroke-width="0.8"/><line x1="451.05" y1="297.3" x2="451.05" y2="299.90000000000003" stroke="#262626" stroke-width="0.8"/><line x1="459.25" y1="297.3" x2="459.25" y2="299.90000000000003" stroke="#262626" stroke-width="0.8"/><line x1="465.94" y1="297.3" x2="465.94" y2="299.90000000000003" stroke="#262626" stroke-width="0.8"/><line x1="471.60" y1="297.3" x2="471.60" y2="299.90000000000003" stroke="#262626" stroke-width="0.8"/><line x1="476.51" y1="297.3" x2="476.51" y2="299.90000000000003" stroke="#262626" stroke-width="0.8"/><line x1="480.83" y1="297.3" x2="480.83" y2="299.90000000000003" stroke="#262626" stroke-width="0.8"/><line x1="484.70" y1="297.3" x2="484.70" y2="301.6" stroke="#262626" stroke-width="1.0"/><line x1="510.15" y1="297.3" x2="510.15" y2="299.90000000000003" stroke="#262626" stroke-width="0.8"/><line x1="525.04" y1="297.3" x2="525.04" y2="299.90000000000003" stroke="#262626" stroke-width="0.8"/><line x1="535.60" y1="297.3" x2="535.60" y2="299.90000000000003" stroke="#262626" stroke-width="0.8"/><line x1="543.80" y1="297.3" x2="543.80" y2="299.90000000000003" stroke="#262626" stroke-width="0.8"/><text x="308.90" y="310.00" font-size="9.6" stroke="#161616" stroke-width="0.2" textLength="9.5" lengthAdjust="spacingAndGlyphs">10</text><text x="318.90" y="307.80" font-size="5.6" stroke="#161616" stroke-width="0.15">1</text><text x="393.45" y="310.00" font-size="9.6" stroke="#161616" stroke-width="0.2" textLength="9.5" lengthAdjust="spacingAndGlyphs">10</text><text x="403.45" y="307.80" font-size="5.6" stroke="#161616" stroke-width="0.15">2</text><text x="478.00" y="310.00" font-size="9.6" stroke="#161616" stroke-width="0.2" textLength="9.5" lengthAdjust="spacingAndGlyphs">10</text><text x="488.00" y="307.80" font-size="5.6" stroke="#161616" stroke-width="0.15">3</text><line x1="312.90000000000003" y1="296.85" x2="315.6" y2="296.85" stroke="#262626" stroke-width="0.8"/><line x1="312.90000000000003" y1="294.28" x2="315.6" y2="294.28" stroke="#262626" stroke-width="0.8"/><line x1="312.90000000000003" y1="292.18" x2="315.6" y2="292.18" stroke="#262626" stroke-width="0.8"/><line x1="312.90000000000003" y1="290.40" x2="315.6" y2="290.40" stroke="#262626" stroke-width="0.8"/><line x1="312.90000000000003" y1="288.87" x2="315.6" y2="288.87" stroke="#262626" stroke-width="0.8"/><line x1="312.90000000000003" y1="287.51" x2="315.6" y2="287.51" stroke="#262626" stroke-width="0.8"/><line x1="311.1" y1="286.30" x2="315.6" y2="286.30" stroke="#262626" stroke-width="1.0"/><line x1="312.90000000000003" y1="278.32" x2="315.6" y2="278.32" stroke="#262626" stroke-width="0.8"/><line x1="312.90000000000003" y1="273.66" x2="315.6" y2="273.66" stroke="#262626" stroke-width="0.8"/><line x1="312.90000000000003" y1="270.35" x2="315.6" y2="270.35" stroke="#262626" stroke-width="0.8"/><line x1="312.90000000000003" y1="267.78" x2="315.6" y2="267.78" stroke="#262626" stroke-width="0.8"/><line x1="312.90000000000003" y1="265.68" x2="315.6" y2="265.68" stroke="#262626" stroke-width="0.8"/><line x1="312.90000000000003" y1="263.90" x2="315.6" y2="263.90" stroke="#262626" stroke-width="0.8"/><line x1="312.90000000000003" y1="262.37" x2="315.6" y2="262.37" stroke="#262626" stroke-width="0.8"/><line x1="312.90000000000003" y1="261.01" x2="315.6" y2="261.01" stroke="#262626" stroke-width="0.8"/><line x1="311.1" y1="259.80" x2="315.6" y2="259.80" stroke="#262626" stroke-width="1.0"/><line x1="312.90000000000003" y1="251.82" x2="315.6" y2="251.82" stroke="#262626" stroke-width="0.8"/><line x1="312.90000000000003" y1="247.16" x2="315.6" y2="247.16" stroke="#262626" stroke-width="0.8"/><line x1="312.90000000000003" y1="243.85" x2="315.6" y2="243.85" stroke="#262626" stroke-width="0.8"/><line x1="312.90000000000003" y1="241.28" x2="315.6" y2="241.28" stroke="#262626" stroke-width="0.8"/><line x1="312.90000000000003" y1="239.18" x2="315.6" y2="239.18" stroke="#262626" stroke-width="0.8"/><line x1="312.90000000000003" y1="237.40" x2="315.6" y2="237.40" stroke="#262626" stroke-width="0.8"/><line x1="312.90000000000003" y1="235.87" x2="315.6" y2="235.87" stroke="#262626" stroke-width="0.8"/><line x1="312.90000000000003" y1="234.51" x2="315.6" y2="234.51" stroke="#262626" stroke-width="0.8"/><line x1="311.1" y1="233.30" x2="315.6" y2="233.30" stroke="#262626" stroke-width="1.0"/><line x1="312.90000000000003" y1="225.32" x2="315.6" y2="225.32" stroke="#262626" stroke-width="0.8"/><line x1="312.90000000000003" y1="220.66" x2="315.6" y2="220.66" stroke="#262626" stroke-width="0.8"/><line x1="312.90000000000003" y1="217.35" x2="315.6" y2="217.35" stroke="#262626" stroke-width="0.8"/><line x1="312.90000000000003" y1="214.78" x2="315.6" y2="214.78" stroke="#262626" stroke-width="0.8"/><line x1="312.90000000000003" y1="212.68" x2="315.6" y2="212.68" stroke="#262626" stroke-width="0.8"/><line x1="312.90000000000003" y1="210.90" x2="315.6" y2="210.90" stroke="#262626" stroke-width="0.8"/><line x1="312.90000000000003" y1="209.37" x2="315.6" y2="209.37" stroke="#262626" stroke-width="0.8"/><line x1="312.90000000000003" y1="208.01" x2="315.6" y2="208.01" stroke="#262626" stroke-width="0.8"/><line x1="311.1" y1="206.80" x2="315.6" y2="206.80" stroke="#262626" stroke-width="1.0"/><line x1="312.90000000000003" y1="198.82" x2="315.6" y2="198.82" stroke="#262626" stroke-width="0.8"/><line x1="312.90000000000003" y1="194.16" x2="315.6" y2="194.16" stroke="#262626" stroke-width="0.8"/><line x1="312.90000000000003" y1="190.85" x2="315.6" y2="190.85" stroke="#262626" stroke-width="0.8"/><line x1="312.90000000000003" y1="188.28" x2="315.6" y2="188.28" stroke="#262626" stroke-width="0.8"/><line x1="312.90000000000003" y1="186.18" x2="315.6" y2="186.18" stroke="#262626" stroke-width="0.8"/><line x1="312.90000000000003" y1="184.40" x2="315.6" y2="184.40" stroke="#262626" stroke-width="0.8"/><line x1="312.90000000000003" y1="182.87" x2="315.6" y2="182.87" stroke="#262626" stroke-width="0.8"/><line x1="312.90000000000003" y1="181.51" x2="315.6" y2="181.51" stroke="#262626" stroke-width="0.8"/><line x1="311.1" y1="180.30" x2="315.6" y2="180.30" stroke="#262626" stroke-width="1.0"/><line x1="312.90000000000003" y1="172.32" x2="315.6" y2="172.32" stroke="#262626" stroke-width="0.8"/><text x="290.30" y="288.80" font-size="9.6" stroke="#161616" stroke-width="0.2" textLength="9.5" lengthAdjust="spacingAndGlyphs">10</text><text x="300.30" y="286.00" font-size="5.6" stroke="#161616" stroke-width="0.15">−2</text><text x="290.30" y="262.30" font-size="9.6" stroke="#161616" stroke-width="0.2" textLength="9.5" lengthAdjust="spacingAndGlyphs">10</text><text x="300.30" y="259.50" font-size="5.6" stroke="#161616" stroke-width="0.15">−1</text><text x="294.50" y="235.80" font-size="9.6" stroke="#161616" stroke-width="0.2" textLength="9.5" lengthAdjust="spacingAndGlyphs">10</text><text x="304.50" y="233.00" font-size="5.6" stroke="#161616" stroke-width="0.15">0</text><text x="294.50" y="209.30" font-size="9.6" stroke="#161616" stroke-width="0.2" textLength="9.5" lengthAdjust="spacingAndGlyphs">10</text><text x="304.50" y="206.50" font-size="5.6" stroke="#161616" stroke-width="0.15">1</text><text x="294.50" y="182.80" font-size="9.6" stroke="#161616" stroke-width="0.2" textLength="9.5" lengthAdjust="spacingAndGlyphs">10</text><text x="304.50" y="180.00" font-size="5.6" stroke="#161616" stroke-width="0.15">2</text><rect x="315.6" y="171.5" width="228.20" height="125.80" fill="none" stroke="#262626" stroke-width="0.9"/><text x="396.15" y="167.1" font-size="9.9" stroke="#161616" stroke-width="0.25" textLength="67.1" lengthAdjust="spacingAndGlyphs">Sparse Spiking</text><text transform="translate(316.00,167.00) scale(1.0,1.0)" font-size="9.6" font-weight="bold" stroke="#161616" stroke-width="0.35">D</text><text transform="translate(284.70000000000005,269.50) rotate(-90)" font-size="9.6" stroke="#161616" stroke-width="0.25" textLength="69.2" lengthAdjust="spacingAndGlyphs">Step Time (ms)</text><text x="385.50" y="321.8" font-size="9.6" stroke="#161616" stroke-width="0.25" textLength="88.4" lengthAdjust="spacingAndGlyphs">Number of Neurons</text><rect x="320.1" y="188.3" width="79.50" height="63.00" rx="2" fill="#fff" fill-opacity="0.8" stroke="#d6d6d6" stroke-width="0.8"/><line x1="322.6" y1="194.80" x2="340.3" y2="194.80" stroke="#0173b2" stroke-width="1.4"/><text x="346.4" y="198.00" font-size="8.8" stroke="#161616" stroke-width="0.25" textLength="51.0" lengthAdjust="spacingAndGlyphs">SNS-Toolbox</text><line x1="322.6" y1="207.10" x2="340.3" y2="207.10" stroke="#de8f05" stroke-width="1.4" stroke-dasharray="1.35,1.65"/><text x="346.4" y="210.30" font-size="8.8" stroke="#161616" stroke-width="0.25" textLength="27.8" lengthAdjust="spacingAndGlyphs">Brian2</text><line x1="322.6" y1="219.40" x2="340.3" y2="219.40" stroke="#029e73" stroke-width="1.4" stroke-dasharray="4.3,1.8"/><text x="346.4" y="222.60" font-size="8.8" stroke="#161616" stroke-width="0.25" textLength="28.0" lengthAdjust="spacingAndGlyphs">Nengo</text><line x1="322.6" y1="231.70" x2="340.3" y2="231.70" stroke="#d55e00" stroke-width="1.4" stroke-dasharray="7.2,1.8,1.15,1.8"/><text x="346.4" y="234.90" font-size="8.8" stroke="#161616" stroke-width="0.25" textLength="41.0" lengthAdjust="spacingAndGlyphs">ANNarchy</text><line x1="322.6" y1="244.00" x2="340.3" y2="244.00" stroke="#000" stroke-width="1.4" stroke-dasharray="4.3,1.8"/><text x="346.4" y="247.20" font-size="8.8" stroke="#161616" stroke-width="0.25" textLength="40.8" lengthAdjust="spacingAndGlyphs">Real-Time</text></svg></body></html>
